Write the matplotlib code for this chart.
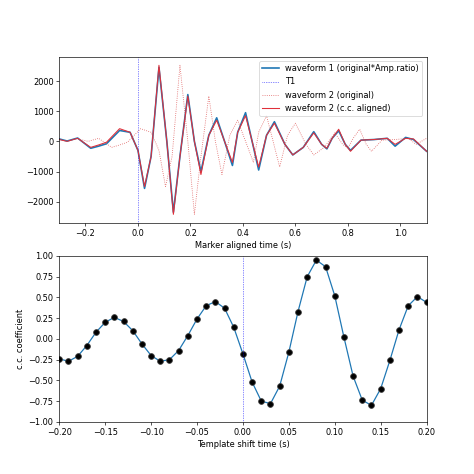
import matplotlib
matplotlib.use('Agg')
import matplotlib.pyplot as plt
import numpy as np

# waveform samples (time s, amplitude)
t_wave = [-0.30, -0.27, -0.23, -0.18, -0.15, -0.12, -0.07, -0.03, 0.00, 0.025, 0.05, 0.08,
          0.11, 0.135, 0.16, 0.19, 0.215, 0.24, 0.27, 0.30, 0.33, 0.36, 0.38, 0.41, 0.435,
          0.46, 0.49, 0.52, 0.56, 0.59, 0.63, 0.67, 0.70, 0.72, 0.74, 0.765, 0.79, 0.81,
          0.85, 0.90, 0.95, 0.98, 1.02, 1.05, 1.10]
wave1 = [80, 10, 110, -230, -160, -80, 360, 300, -300, -1560, -500, 2450,
         0, -2350, -500, 1550, 0, -1000, 200, 780, 0, -800, 300, 950, 0,
         -950, 200, 650, -100, -450, -200, 320, -100, -250, 100, 350, -100, -300,
         40, 60, 100, -160, 130, 60, -330]
wave2 = [60, 0, 100, -200, -120, -30, 420, 300, -300, -1500, -500, 2520,
         0, -2420, -500, 1500, 0, -1100, 200, 700, 0, -700, 300, 850, 0,
         -850, 200, 600, -100, -450, -200, 280, -100, -230, 100, 400, -100, -330,
         40, 60, 100, -100, 100, 80, -330]
cc_shift = 0.08  # shift applied to waveform 2 to align it

# cross-correlation coefficients vs template shift
shift = np.round(np.arange(-0.20, 0.2001, 0.01), 2)
cc = [-0.24, -0.27, -0.21, -0.08, 0.08, 0.20, 0.26, 0.21, 0.10, -0.06, -0.20,
      -0.27, -0.25, -0.14, 0.04, 0.24, 0.40, 0.45, 0.37, 0.14, -0.18,
      -0.52, -0.75, -0.78, -0.57, -0.16, 0.33, 0.75, 0.95, 0.87, 0.52,
      0.02, -0.45, -0.74, -0.80, -0.60, -0.26, 0.11, 0.40, 0.51, 0.44]

plt.rcParams['font.size'] = 10
fig = plt.figure(figsize=(8, 8), dpi=59.25)

ax = fig.add_subplot(211)
ax.plot(t_wave, wave1, color='C0', lw=2, label='waveform 1 (original*Amp.ratio)')
ax.axvline(0, color='b', ls=':', lw=0.8, label='T1')
ax.plot(np.array(t_wave) + cc_shift, wave2, color='#e06060', ls=':', lw=1, label='waveform 2 (original)')
ax.plot(t_wave, wave2, color='#e0303a', lw=1.3, label='waveform 2 (c.c. aligned)')
ax.set_xlim(-0.3, 1.1)
ax.set_ylim(-2700, 2800)
ax.set_xlabel('Marker aligned time (s)')
ax.legend(loc='upper right')

bx = fig.add_subplot(212)
bx.plot(shift, cc, color='C0', lw=1.5)
bx.plot(shift, cc, 'ko', ms=7, markeredgecolor='#404040')
bx.axvline(0, color='b', ls=':', lw=0.8)
bx.set_xlim(-0.2, 0.2)
bx.set_ylim(-1, 1)
bx.set_yticks(np.arange(-1, 1.01, 0.25))
bx.set_xlabel('Template shift time (s)')
bx.set_ylabel('c.c. coefficient')

fig.savefig('out.png', dpi=59.25)
